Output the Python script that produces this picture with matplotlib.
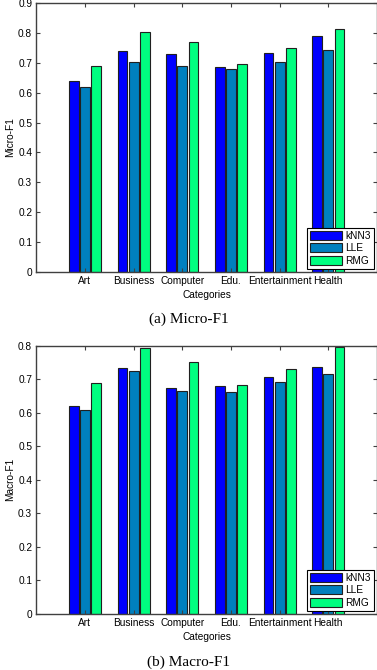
import numpy as np
import matplotlib
matplotlib.use("Agg")
import matplotlib.pyplot as plt

categories = ["Art", "Business", "Computer", "Edu.", "Entertainment", "Health"]
methods = ["kNN3", "LLE", "RMG"]
colors = [(0, 0, 1), (0, 0.5, 0.75), (0, 1, 0.5)]  # matlab winter(3)

micro_knn3 = [0.640, 0.741, 0.731, 0.686, 0.733, 0.790]
micro_lle = [0.618, 0.702, 0.688, 0.680, 0.702, 0.743]
micro_rmg = [0.690, 0.804, 0.771, 0.695, 0.751, 0.813]

macro_knn3 = [0.621, 0.733, 0.673, 0.679, 0.706, 0.735]
macro_lle = [0.608, 0.724, 0.664, 0.663, 0.691, 0.715]
macro_rmg = [0.688, 0.792, 0.752, 0.682, 0.731, 0.795]

plt.rcParams['font.family'] = ['Liberation Sans', 'DejaVu Sans']
plt.rcParams['font.size'] = 7.3

fig = plt.figure(figsize=(3.77, 6.70), dpi=100)


def draw_panel(ax, series, ymax, ylabel, caption):
    x = np.arange(1, len(categories) + 1)
    offsets = [-0.23, 0.0, 0.23]
    for vals, off, col, name in zip(series, offsets, colors, methods):
        ax.bar(x + off, vals, width=0.2, color=col, edgecolor='#202020',
               linewidth=0.8, label=name)
    ax.set_xlim(0, 7)
    ax.set_ylim(0, ymax)
    ax.set_yticks(np.arange(0, ymax + 0.001, 0.1))
    ax.set_yticklabels(["0"] + [f"{v:.1f}" for v in np.arange(0.1, ymax + 0.001, 0.1)])
    ax.set_xticks(x)
    ax.set_xticklabels(categories)
    ax.tick_params(direction='in', top=True, right=True, length=3, width=0.8,
                   color='#404040', pad=3)
    for sp in ax.spines.values():
        sp.set_color('#404040')
        sp.set_linewidth(1.0)
    ax.set_xlabel("Categories", labelpad=3)
    ax.set_ylabel(ylabel)
    ax.yaxis.set_label_coords(-0.062, 0.5)
    leg = ax.legend(loc='lower right', handlelength=3.2, handleheight=1.0,
                    labelspacing=0.25, handletextpad=0.3, borderpad=0.3,
                    borderaxespad=0.3, fancybox=False, framealpha=1,
                    edgecolor='black')
    leg.get_frame().set_linewidth(0.8)
    ax.text(0.5, caption[1], caption[0], transform=fig.transFigure,
            ha='center', va='center', family='Liberation Serif', fontsize=11)


ax1 = fig.add_axes([0.0963, 0.594, 0.9037, 0.4015])
draw_panel(ax1, [micro_knn3, micro_lle, micro_rmg], 0.9, "Micro-F1",
           ("(a) Micro-F1", 1 - 319 / 670))

ax2 = fig.add_axes([0.0963, 0.0836, 0.9037, 0.4005])
draw_panel(ax2, [macro_knn3, macro_lle, macro_rmg], 0.8, "Macro-F1",
           ("(b) Macro-F1", 1 - 662 / 670))

fig.savefig("out.png", dpi=100)
